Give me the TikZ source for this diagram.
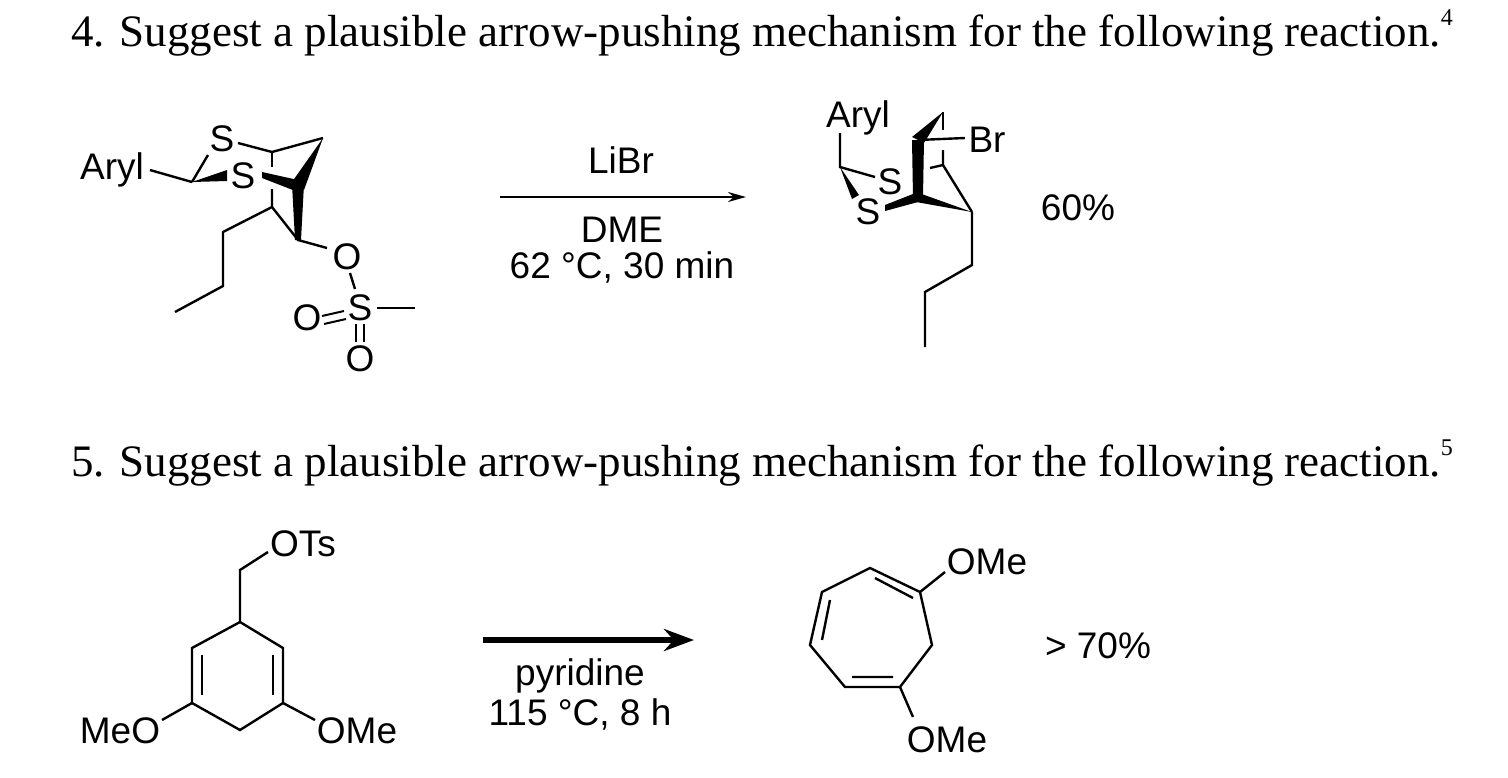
\documentclass[tikz,border=0pt]{standalone}
\usepackage{fontspec}
\setmainfont{Liberation Serif}
\newfontfamily\lsans{Liberation Sans}
\usetikzlibrary{arrows.meta}
\newcommand{\supr}[1]{\raisebox{0.45em}{\fontsize{24}{26}\selectfont #1}}
\begin{document}
\begin{tikzpicture}[x=1pt,y=-1pt,line width=2.4pt,
  lab/.style={font=\lsans\fontsize{37}{40}\selectfont,inner sep=0pt},
  ttl/.style={font=\fontsize{45}{50}\selectfont,inner sep=0pt,anchor=west},
  wedge/.style={fill=black,draw=none}]
\useasboundingbox (0,0) rectangle (1508,777);
\node[ttl] (t4) at (70,33) {4. Suggest a plausible arrow-pushing mechanism for the following reaction.\supr{4}};
\node[ttl] (t5) at (70,463) {5. Suggest a plausible arrow-pushing mechanism for the following reaction.\supr{5}};
% ---- molecule 1
\node[lab] (ar1) at (112,170) {Aryl};
\node[lab] (s1) at (222,139) {S};
\node[lab] (s2) at (243,176) {S};
\node[lab] (o1) at (347,257) {O};
\node[lab] (s3) at (360,308) {S};
\node[lab] (o2) at (307,318) {O};
\node[lab] (o3) at (360,359) {O};
\coordinate (c2) at (192,182);
\coordinate (ca) at (272,152);
\coordinate (ct) at (323,138);
\coordinate (cb) at (298,186);
\coordinate (cm) at (272,207);
\coordinate (cc) at (298,240);
\draw (150,170) -- (c2);
\fill[wedge] (c2) -- (227,170) -- (227,181) -- cycle;
\draw (c2) -- (208,155);
\draw (238,143) -- (ca) -- (ct);
\fill[wedge] (ct) -- (292,182) -- (304,190) -- cycle;
\fill[wedge] (262,172) -- (262,178) -- (298,192) -- (298,180) -- cycle;
\fill[wedge] (292,184) -- (304,184) -- (301,240) -- (295,240) -- cycle;
\draw (ca) -- (272,167);
\draw (272,189) -- (cm) -- (cc) -- (327,248);
\draw (cm) -- (223,232) -- (223,286) -- (175,312);
\draw (350,273) -- (355,289);
\draw (377,308) -- (415,308);
\draw[line width=2pt] (322,316) -- (344,311) (324,324) -- (346,319);
\draw[line width=2pt] (356,324) -- (356,342) (364,324) -- (364,342);
% ---- arrow 1
\coordinate (a1s) at (500,197);
\coordinate (a1e) at (746,197);
\draw[line width=2pt,-{Stealth[length=18pt,width=10pt]}] (a1s) -- (a1e);
\node[lab] (libr) at (621,160) {LiBr};
\node[lab] (dme) at (622,230) {DME};
\node[lab] (cond1) at (622,267) {62 °C, 30 min};
% ---- product 1
\node[lab] (ar2) at (858,118) {Aryl};
\node[lab] (s4) at (890,182) {S};
\node[lab] (s5) at (868,212) {S};
\node[lab] (br) at (987,140) {Br};
\node[lab] (y1) at (1078,208) {60\%};
\coordinate (p1) at (840,167);
\coordinate (q1) at (918,197);
\coordinate (q2) at (918,140);
\coordinate (q3) at (943,112);
\coordinate (q4) at (943,165);
\coordinate (q5) at (972,212);
\draw (840,133) -- (p1) -- (875,177);
\fill[wedge] (p1) -- (852,199) -- (859,195) -- cycle;
\fill[wedge] (885,205) -- (885,211) -- (918,202) -- (918,192) -- cycle;
\fill[wedge] (916,192) -- (972,212) -- (916,202) -- cycle;
\fill[wedge] (912,140) -- (924,140) -- (923,197) -- (913,197) -- cycle;
\fill[wedge] (q3) -- (924,143) -- (912,137) -- cycle;
\draw (q3) -- (943,130);
\draw (943,150) -- (q4) -- (q5);
\draw (930,168) -- (q4);
\draw (q2) -- (965,138);
\draw (q5) -- (972,265) -- (925,292) -- (925,347);
% ---- molecule 3
\node[lab] (ots) at (303,544) {OTs};
\node[lab] (meo) at (120,731) {MeO};
\node[lab] (ome1) at (357,731) {OMe};
\coordinate (r1) at (240,622);
\coordinate (r2) at (192,648);
\coordinate (r3) at (192,703);
\coordinate (r4) at (240,730);
\coordinate (r5) at (283,703);
\coordinate (r6) at (283,648);
\draw (268,552) -- (240,570) -- (r1);
\draw (r1) -- (r2) -- (r3) -- (r4) -- (r5) -- (r6) -- cycle;
\draw (202,655) -- (202,695) (273,655) -- (273,695);
\draw (r3) -- (162,720) (r5) -- (315,720);
% ---- arrow 2
\coordinate (a2s) at (483,640);
\coordinate (a2e) at (694,640);
\draw[line width=6pt,-{Stealth[length=30pt,width=22pt]}] (a2s) -- (a2e);
\node[lab] (pyr) at (580,676) {pyridine};
\node[lab] (cond2) at (580,714) {115 °C, 8 h};
% ---- product 2
\node[lab] (ome2) at (987,562) {OMe};
\node[lab] (ome3) at (947,740) {OMe};
\node[lab] (y2) at (1098,646) {> 70\%};
\coordinate (h1) at (870,568);
\coordinate (h2) at (920,592);
\coordinate (h3) at (932,645);
\coordinate (h4) at (900,687);
\coordinate (h5) at (845,687);
\coordinate (h6) at (810,645);
\coordinate (h7) at (822,592);
\draw (h1) -- (h2) -- (h3) -- (h4) -- (h5) -- (h6) -- (h7) -- cycle;
\draw (875,578) -- (913,598) (830,600) -- (822,640) (852,677) -- (893,677);
\draw (h2) -- (945,572) (h4) -- (913,717);
\end{tikzpicture}
\end{document}
